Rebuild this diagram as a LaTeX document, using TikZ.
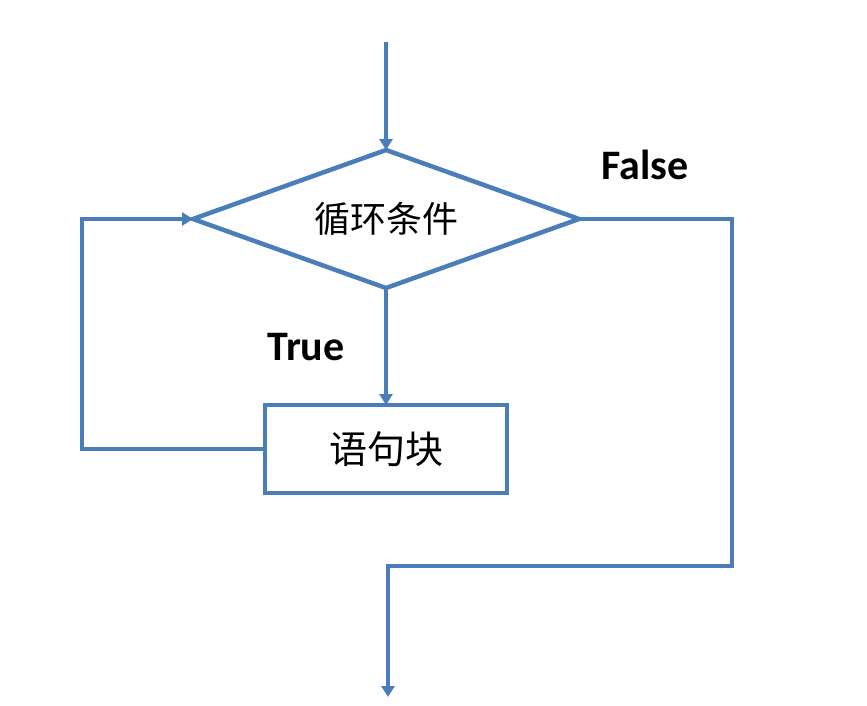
\documentclass[tikz,border=0pt]{standalone}
\usepackage{fontspec}
\setmainfont{Carlito}
\newfontfamily\cjk{Noto Sans CJK SC}
\usetikzlibrary{shapes.geometric,arrows.meta}
\definecolor{flow}{RGB}{74,126,187}
\begin{document}
\begin{tikzpicture}[x=1pt,y=-1pt,
  shapeline/.style={draw=flow, line width=4.5pt, inner sep=0pt, outer sep=0pt},
  conn/.style={draw=flow, line width=4.5pt, -{Triangle[length=11pt,width=13pt]}},
  lbl/.style={font=\bfseries\fontsize{42}{50}\selectfont, inner sep=0pt}]
\useasboundingbox (0,0) rectangle (867,706);
\node[shapeline, diamond, aspect=2.8, minimum width=386pt, minimum height=138pt] (cond) at (386,219)
  {\cjk\fontsize{36}{40}\selectfont 循环条件};
\node[shapeline, rectangle, minimum width=242pt, minimum height=88pt] (body) at (386,449)
  {\cjk\fontsize{38}{42}\selectfont 语句块};
\node[lbl] (tlabel) at (306,347) {True};
\node[lbl] (flabel) at (645,165) {False};
\coordinate (start) at (386,42);
\coordinate (loopL) at (82,449);
\coordinate (rc) at (732,566);
\coordinate (finish) at (388,697);
\draw[conn] (start) -- (cond.north);
\draw[conn] (cond.south) -- (body.north);
\draw[conn] (body.west) -- (loopL) |- (cond.west);
\draw[conn] (cond.east) -| (rc) -| (finish);
\end{tikzpicture}
\end{document}
